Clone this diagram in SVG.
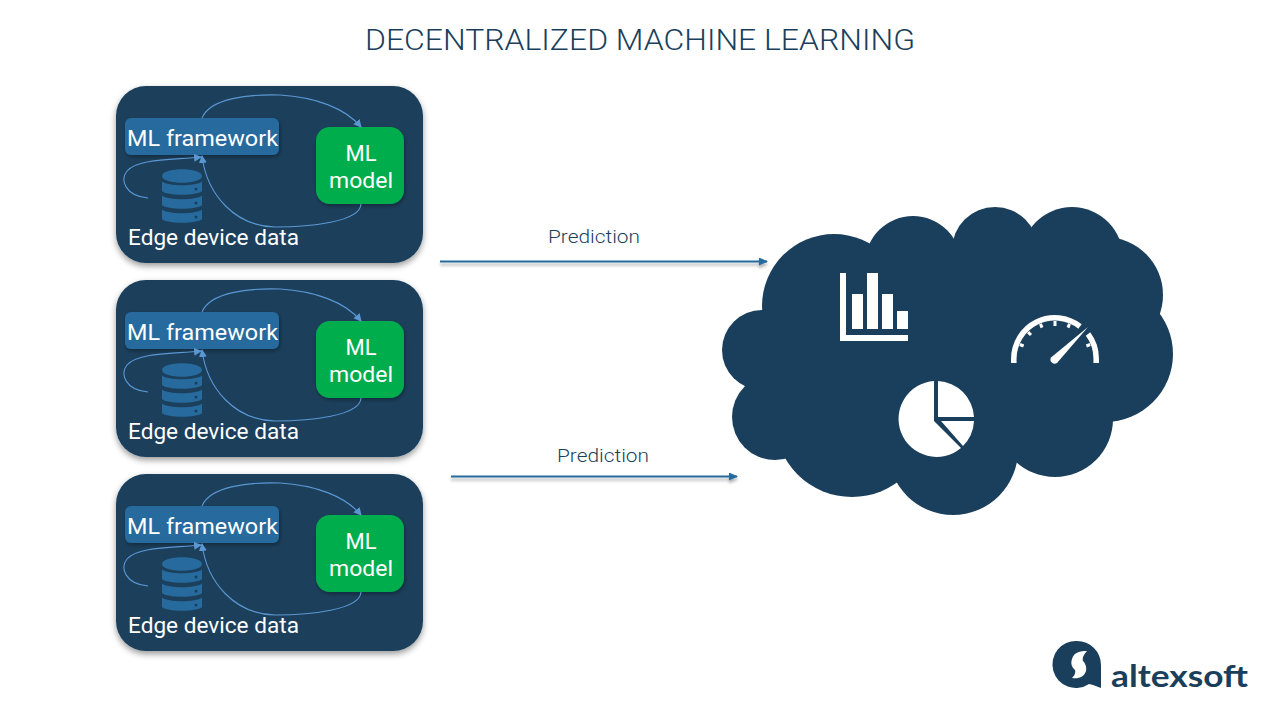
<svg xmlns="http://www.w3.org/2000/svg" width="1280" height="720" viewBox="0 0 1280 720">
<style>
text{font-family:"Roboto","Liberation Sans",sans-serif}
.title{font-size:30px;font-weight:300;fill:#1a3f5c}
.pred{font-size:18px;font-weight:300;fill:#1a3f5c}
.w{font-size:22px;fill:#fff}
.card{fill:#1a3f5c;filter:url(#sh)}
.fw{fill:#266a9e;filter:url(#sh2)}
.mdl{fill:#00ad4e;filter:url(#sh2)}
.cyc{fill:none;stroke:#5b97d3;stroke-width:1.1;marker-end:url(#ah)}
.db{fill:#266a9e}
.dot{fill:#1a3f5c}
.pl{stroke:#266a9e;stroke-width:2;fill:none;marker-end:url(#pa);filter:url(#sh3)}
.cl{fill:#1a3f5c}
.ic{fill:#fff}
.g{fill:none;stroke:#fff;stroke-width:5.500}
.t{stroke:#fff;stroke-width:3}
</style>
<defs>
<filter id="sh" x="-10%" y="-10%" width="120%" height="125%"><feDropShadow dx="0" dy="3" stdDeviation="3" flood-color="#000" flood-opacity=".4"/></filter>
<filter id="sh2" x="-10%" y="-10%" width="120%" height="125%"><feDropShadow dx="1" dy="2" stdDeviation="2" flood-color="#000" flood-opacity=".35"/></filter>
<filter id="sh3" filterUnits="userSpaceOnUse" x="420" y="240" width="370" height="260"><feDropShadow dx="0" dy="3" stdDeviation="1.500" flood-color="#000" flood-opacity=".3"/></filter>
<marker id="ah" markerUnits="userSpaceOnUse" markerWidth="9" markerHeight="9" refX="7" refY="4" orient="auto"><path d="M0 0L8 4L0 8z" fill="#5b97d3"/></marker>
<marker id="pa" markerUnits="userSpaceOnUse" markerWidth="10" markerHeight="10" refX="8" refY="4" orient="auto"><path d="M0 0L9 4L0 8z" fill="#266a9e"/></marker>
</defs>
<rect width="1280" height="720" fill="#fff"/>
<text class="title" x="640" y="50" text-anchor="middle" textLength="550" lengthAdjust="spacingAndGlyphs">DECENTRALIZED MACHINE LEARNING</text>

<g id="node-device-1">
<rect class="card" x="116" y="86" width="307" height="177" rx="30"/>
<rect class="fw" x="125" y="118" width="154" height="37" rx="6"/>
<text class="w" x="127" y="146" textLength="151" lengthAdjust="spacingAndGlyphs">ML framework</text>
<rect class="mdl" x="316" y="127" width="88" height="77" rx="14"/>
<text class="w" x="361" y="161" text-anchor="middle">ML</text>
<text class="w" x="361" y="188" text-anchor="middle" textLength="64" lengthAdjust="spacingAndGlyphs">model</text>
<path class="db" d="M162 176c0-9 40-9 40 0s-40 9-40 0zM162 181.500c6 5 34 5 40 0V191c-5 5-35 5-40 0zM162 195.500c6 5 34 5 40 0V205c-5 5-35 5-40 0zM162 209.500c6 5 34 5 40 0V219c-5 5-35 5-40 0z"/>
<circle class="dot" cx="196" cy="189" r="1.500"/><circle class="dot" cx="196" cy="203" r="1.500"/><circle class="dot" cx="196" cy="217" r="1.500"/>
<text class="w" x="128" y="245" textLength="171" lengthAdjust="spacingAndGlyphs">Edge device data</text>
</g>
<g id="node-device-2">
<rect class="card" x="116" y="280" width="307" height="177" rx="30"/>
<rect class="fw" x="125" y="312" width="154" height="37" rx="6"/>
<text class="w" x="127" y="340" textLength="151" lengthAdjust="spacingAndGlyphs">ML framework</text>
<rect class="mdl" x="316" y="321" width="88" height="77" rx="14"/>
<text class="w" x="361" y="355" text-anchor="middle">ML</text>
<text class="w" x="361" y="382" text-anchor="middle" textLength="64" lengthAdjust="spacingAndGlyphs">model</text>
<path class="db" d="M162 370c0-9 40-9 40 0s-40 9-40 0zM162 375.500c6 5 34 5 40 0V385c-5 5-35 5-40 0zM162 389.500c6 5 34 5 40 0V399c-5 5-35 5-40 0zM162 403.500c6 5 34 5 40 0V413c-5 5-35 5-40 0z"/>
<circle class="dot" cx="196" cy="383" r="1.500"/><circle class="dot" cx="196" cy="397" r="1.500"/><circle class="dot" cx="196" cy="411" r="1.500"/>
<text class="w" x="128" y="439" textLength="171" lengthAdjust="spacingAndGlyphs">Edge device data</text>
</g>
<g id="node-device-3">
<rect class="card" x="116" y="474" width="307" height="177" rx="30"/>
<rect class="fw" x="125" y="506" width="154" height="37" rx="6"/>
<text class="w" x="127" y="534" textLength="151" lengthAdjust="spacingAndGlyphs">ML framework</text>
<rect class="mdl" x="316" y="515" width="88" height="77" rx="14"/>
<text class="w" x="361" y="549" text-anchor="middle">ML</text>
<text class="w" x="361" y="576" text-anchor="middle" textLength="64" lengthAdjust="spacingAndGlyphs">model</text>
<path class="db" d="M162 564c0-9 40-9 40 0s-40 9-40 0zM162 569.500c6 5 34 5 40 0V579c-5 5-35 5-40 0zM162 583.500c6 5 34 5 40 0V593c-5 5-35 5-40 0zM162 597.500c6 5 34 5 40 0V607c-5 5-35 5-40 0z"/>
<circle class="dot" cx="196" cy="577" r="1.500"/><circle class="dot" cx="196" cy="591" r="1.500"/><circle class="dot" cx="196" cy="605" r="1.500"/>
<text class="w" x="128" y="633" textLength="171" lengthAdjust="spacingAndGlyphs">Edge device data</text>
</g>

<g id="connectors">
<path class="cyc" d="M202 118C210 98 250 94 280 95C315 97 345 108 361 127"/>
<path class="cyc" d="M361 204C360 222 310 227 275 227C235 226 207 195 202 156"/>
<path class="cyc" d="M148 198C125 196 120 180 127 171C138 158 175 160 201 157"/>
<path class="cyc" d="M202 312C210 292 250 288 280 289C315 291 345 302 361 321"/>
<path class="cyc" d="M361 398C360 416 310 421 275 421C235 420 207 389 202 350"/>
<path class="cyc" d="M148 392C125 390 120 374 127 365C138 352 175 354 201 351"/>
<path class="cyc" d="M202 506C210 486 250 482 280 483C315 485 345 496 361 515"/>
<path class="cyc" d="M361 592C360 610 310 615 275 615C235 614 207 583 202 544"/>
<path class="cyc" d="M148 586C125 584 120 568 127 559C138 546 175 548 201 545"/>
<path class="pl" d="M440 261.500H767"/>
<path class="pl" d="M451 476.500H737"/>
</g>
<text class="pred" x="594" y="243" text-anchor="middle" textLength="92" lengthAdjust="spacingAndGlyphs">Prediction</text>
<text class="pred" x="603" y="462" text-anchor="middle" textLength="92" lengthAdjust="spacingAndGlyphs">Prediction</text>

<g id="node-cloud">
<circle class="cl" cx="834" cy="306" r="72"/>
<circle class="cl" cx="913" cy="264" r="48"/>
<circle class="cl" cx="995" cy="250" r="43"/>
<circle class="cl" cx="1072" cy="258" r="51"/>
<circle class="cl" cx="1105" cy="295" r="58"/>
<circle class="cl" cx="1105" cy="354" r="68"/>
<circle class="cl" cx="1055" cy="419" r="58"/>
<circle class="cl" cx="953" cy="450" r="65"/>
<circle class="cl" cx="852" cy="420" r="77"/>
<circle class="cl" cx="775" cy="417" r="43"/>
<circle class="cl" cx="762" cy="350" r="40"/>
<rect class="cl" x="790" y="250" width="300" height="200"/>
<path class="ic" d="M840 273h6v62h62v6h-68zM852 294h11v35h-11zM867 273h11v56h-11zM882 294h11v35h-11zM897 311h11v18h-11z"/>
<path class="g" d="M1013.800 363V359A41 41 0 0 1 1080 326.500M1088 334A41 41 0 0 1 1096.200 359V363"/>
<path class="t" d="M1055 321V326M1069.500 323.900L1068 327.600M1040.500 323.900L1042 327.600M1028.100 332.100L1031 335M1019.900 344.500L1023.600 346M1090.100 344.500L1086.400 346"/>
<path class="ic" d="M1088 327L1051 357.500A4.200 4.200 0 0 0 1057 363Z"/>
<path class="ic" d="M938 381a38 38 0 0 1 36 36h-36zM941 421h33a38 38 0 0 1-11 25zM934 381v40l27 27a38 38 0 1 1-27-67z"/>
</g>

<g id="logo">
<path d="M1077 641a24 24 0 0 1 24 24v23l-8-3-4-1a23.500 23.500 0 1 1-12-43z" fill="#1a3f5c" transform="translate(0 0)"/>
<path d="M1087 651c-7 0-13 1-15 8-2 6 1 9 3 11 1 3-1 6-3 8 7 1 12-1 14-7 1-4-1-8-3-10-1-3 1-7 4-10z" fill="#fff"/>
<text x="1111" y="687" font-size="31" font-weight="700" fill="#1a3f5c" style="font-family:'Lato',sans-serif" textLength="137" lengthAdjust="spacingAndGlyphs">altexsoft</text>
</g>
</svg>
